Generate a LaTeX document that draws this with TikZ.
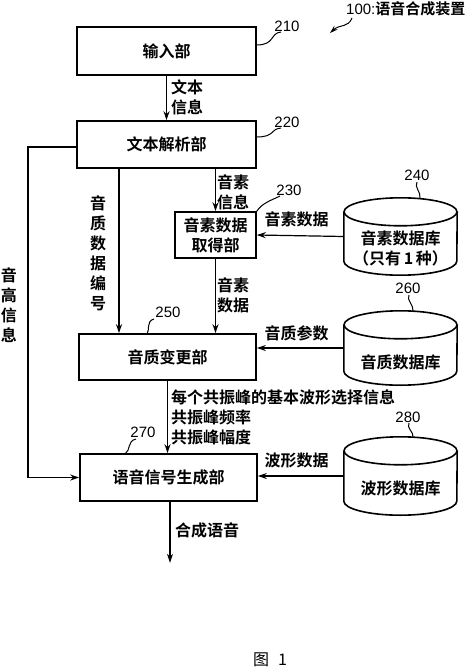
\documentclass[tikz,border=0pt]{standalone}
\usepackage{fontspec}
\setmainfont{Liberation Sans}
\newfontfamily\cjk{Noto Sans CJK SC}[BoldFont={Noto Sans CJK SC Bold}]
\usetikzlibrary{arrows.meta}
\tikzset{
  box/.style={draw, line width=1.6pt, inner sep=0pt, font=\cjk\bfseries\fontsize{16}{20}\selectfont},
  arr/.style={line width=1.2pt, -{Stealth[length=9pt,width=6pt]}},
  ln/.style={line width=1.2pt},
  lbl/.style={inner sep=0pt, font=\cjk\bfseries\fontsize{16}{20}\selectfont, align=left},
  num/.style={inner sep=0pt, font=\fontsize{15}{18}\selectfont},
  lead/.style={line width=1pt},
  cylline/.style={line width=1.6pt}
}
\newcommand{\cyldraw}[1]{%
  \draw[cylline] ([yshift=-14pt]#1.north west) -- ([yshift=14pt]#1.south west)
     arc[start angle=180,end angle=360,x radius=56.5pt,y radius=14pt]
     -- ([yshift=-14pt]#1.north east);
  \draw[cylline] ([yshift=-14pt]#1.north) ellipse[x radius=56.5pt,y radius=14pt];}
\begin{document}
\begin{tikzpicture}[x=1pt,y=1pt]
\useasboundingbox (0,0) rectangle (474,-668);
% boxes
\node[box, minimum width=179pt, minimum height=48pt] (in) at (166.5,-51) {输入部};
\node[box, minimum width=179pt, minimum height=47pt] (parse) at (166.5,-144.5) {文本解析部};
\node[box, minimum width=81pt, minimum height=46pt, align=center] (acq) at (215.5,-235) {音素数据\\取得部};
\node[box, minimum width=177pt, minimum height=46pt] (vq) at (167.5,-357) {音质变更部};
\node[box, minimum width=177pt, minimum height=47pt] (gen) at (168.5,-477.5) {语音信号生成部};
% databases
\node[inner sep=0pt, minimum width=113pt, minimum height=77pt] (db1) at (400.5,-236.5) {};
\node[inner sep=0pt, minimum width=113pt, minimum height=74pt] (db2) at (400.5,-348) {};
\node[inner sep=0pt, minimum width=113pt, minimum height=78pt] (db3) at (400.5,-476) {};
\cyldraw{db1}\cyldraw{db2}\cyldraw{db3}
\node[lbl, align=center] (db1t) at (400.5,-248) {音素数据库\\（只有\,1\,种）};
\node[lbl] (db2t) at (400.5,-362) {音质数据库};
\node[lbl] (db3t) at (400.5,-488) {波形数据库};
% connectors
\draw[arr] (in.south) -- (parse.north);
\draw[arr] (parse.south -| acq.north) -- (acq.north);
\coordinate (xq) at (119,0);
\draw[arr] (parse.south -| xq) -- (vq.north -| xq);
\draw[arr] (acq.south) -- (vq.north -| acq.south);
\draw[arr] (db1.west) -- (acq.east);
\draw[arr] (db2.west) -- (db2.west -| vq.east);
\draw[arr] (db3.west) -- (db3.west -| gen.east);
\draw[arr] (vq.south) -- (vq.south |- gen.north);
\coordinate (lc) at (28,-147);
\draw[arr] ([yshift=-2.5pt]parse.west) -- (lc) |- (gen.west);
\path (gen.south) ++(1.5,-61) coordinate (out);
\draw[arr] (gen.south -| out) -- (out);
% connector labels
\node[lbl, anchor=west] (l1) at (171,-97.5) {文本\\信息};
\node[lbl, anchor=west] (l2) at (217,-192) {音素\\信息};
\node[lbl, anchor=west] (l3) at (217,-295) {音素\\数据};
\node[lbl, align=center] (l4) at (98,-253) {音\\质\\数\\据\\编\\号};
\node[lbl, align=center] (l5) at (9,-305) {音\\高\\信\\息};
\node[lbl] (l6) at (296.5,-219) {音素数据};
\node[lbl] (l7) at (296.5,-333) {音质参数};
\node[lbl] (l8) at (296.5,-460) {波形数据};
\node[lbl, anchor=west] (l9) at (171,-417) {每个共振峰的基本波形选择信息\\共振峰频率\\共振峰幅度};
\node[lbl, anchor=west] (l10) at (175,-530) {合成语音};
\node[inner sep=0pt, anchor=west, font=\cjk\fontsize{16}{20}\selectfont] (cap) at (253,-660) {图\hspace{9pt}1};
% reference numbers
\node[num] (n210) at (287,-26) {210};
\node[num] (n220) at (287,-122) {220};
\node[num] (n230) at (289,-190) {230};
\node[num] (n240) at (417,-175) {240};
\node[num] (n250) at (168,-312) {250};
\node[num] (n260) at (408,-288) {260};
\node[num] (n270) at (143,-432) {270};
\node[num] (n280) at (408,-417) {280};
\node[num, anchor=west] (n100) at (346,-9) {100:{\cjk\bfseries 语音合成装置}};
% leaders
\draw[lead] (in.east |- 0,-45) .. controls (275,-45) and (270,-33) .. (281,-32);
\draw[lead] (parse.east |- 0,-137) .. controls (275,-137) and (270,-129) .. (281,-128);
\draw[lead] (acq.north east) .. controls (262,-203) and (272,-200) .. (280,-196);
\draw[lead] (417,-182) .. controls (414,-187) and (421,-192) .. (420,-198);
\draw[lead] (154,-319) .. controls (146,-321) and (150,-330) .. (147,-334);
\draw[lead] (409,-295) .. controls (406,-300) and (414,-305) .. (413,-311);
\draw[lead] (136,-439) .. controls (127,-441) and (131,-450) .. (125,-454);
\draw[lead] (409,-423) .. controls (406,-428) and (414,-432) .. (413,-437);
\coordinate (t0) at (352,-18);
\coordinate (t1) at (330,-33);
\draw[lead, -{Stealth[length=8pt,width=5pt]}] (t0) .. controls (348,-28) and (340,-24) .. (t1);
\end{tikzpicture}
\end{document}
